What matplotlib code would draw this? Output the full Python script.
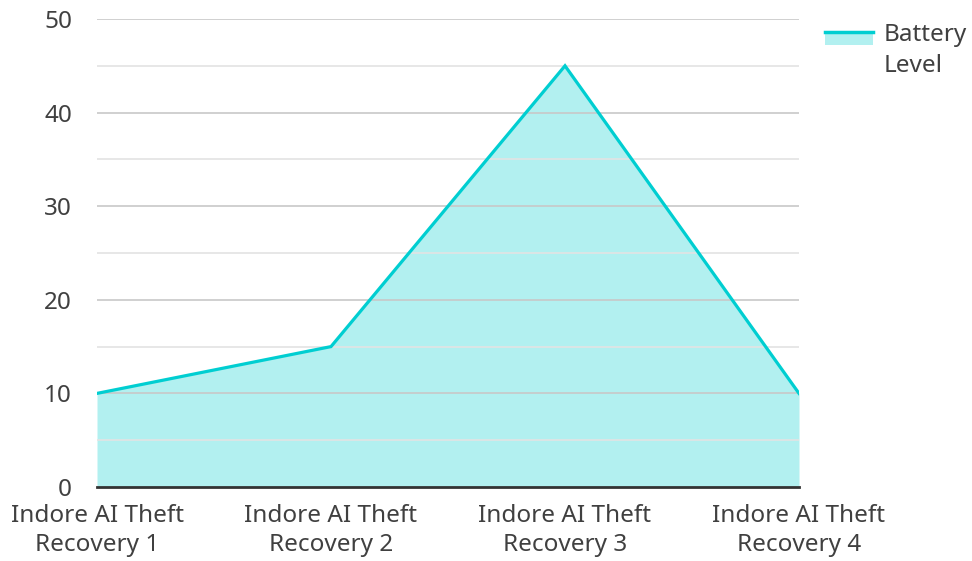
import matplotlib.pyplot as plt
from matplotlib.legend_handler import HandlerBase
from matplotlib.patches import Rectangle
from matplotlib.lines import Line2D

plt.rcParams['font.family'] = ['Noto Sans', 'DejaVu Sans']

categories = ["Indore AI Theft\nRecovery 1", "Indore AI Theft\nRecovery 2",
              "Indore AI Theft\nRecovery 3", "Indore AI Theft\nRecovery 4"]
battery_level = [10, 15, 45, 10]

line_color = '#00CED1'
fill_color = '#B2F0F0'
text_color = '#404040'


class AreaHandler(HandlerBase):
    # legend key: light fill with the line on top, aligned with first text line
    def create_artists(self, legend, orig_handle, xdescent, ydescent,
                       width, height, fontsize, trans):
        shift = fontsize * 0.5
        top = -ydescent + height + shift
        r = Rectangle((-xdescent, -ydescent + shift), width, height,
                      facecolor=fill_color, edgecolor='none', transform=trans)
        l = Line2D([-xdescent, -xdescent + width], [top, top],
                   color=line_color, lw=2.5, transform=trans)
        return [r, l]


fig = plt.figure(figsize=(9.72, 5.61), dpi=100)
ax = fig.add_axes([97 / 972, 1 - 487 / 561, (799 - 97) / 972, (487 - 19) / 561])

x = list(range(len(categories)))
ax.fill_between(x, battery_level, 0, color=fill_color, lw=0, zorder=1)
ax.plot(x, battery_level, color=line_color, lw=2.3, zorder=3,
        solid_joinstyle='miter')

# gridlines (major + minor), drawn over the fill
for v in range(5, 51, 5):
    if v % 10 == 0:
        ax.axhline(v, color='#c8c8c8', lw=1.2, zorder=2)
    else:
        ax.axhline(v, color='#e3e3e3', lw=1.2, zorder=2)

ax.set_xlim(0, 3)
ax.set_ylim(0, 50)
ax.set_yticks(range(0, 51, 10))
ax.set_xticks(x)
ax.set_xticklabels(categories, linespacing=1.32)
ax.tick_params(axis='both', length=0, labelsize=17.5, colors=text_color)
ax.tick_params(axis='y', pad=18)
ax.tick_params(axis='x', pad=12)

for s in ['top', 'right', 'left']:
    ax.spines[s].set_visible(False)
ax.spines['bottom'].set_color('#333333')
ax.spines['bottom'].set_linewidth(2)
ax.spines['bottom'].set_zorder(4)

handle = Line2D([], [])
leg = fig.legend([handle], ['Battery\nLevel'], handler_map={Line2D: AreaHandler()},
                 loc='upper left', bbox_to_anchor=(825 / 972, 1 - 23 / 561),
                 frameon=False, borderpad=0, borderaxespad=0,
                 fontsize=17.5, labelcolor=text_color, handlelength=1.98,
                 handleheight=0.45, handletextpad=0.45)
for t in leg.get_texts():
    t.set_linespacing(1.4)

fig.savefig('out.png', dpi=100)
